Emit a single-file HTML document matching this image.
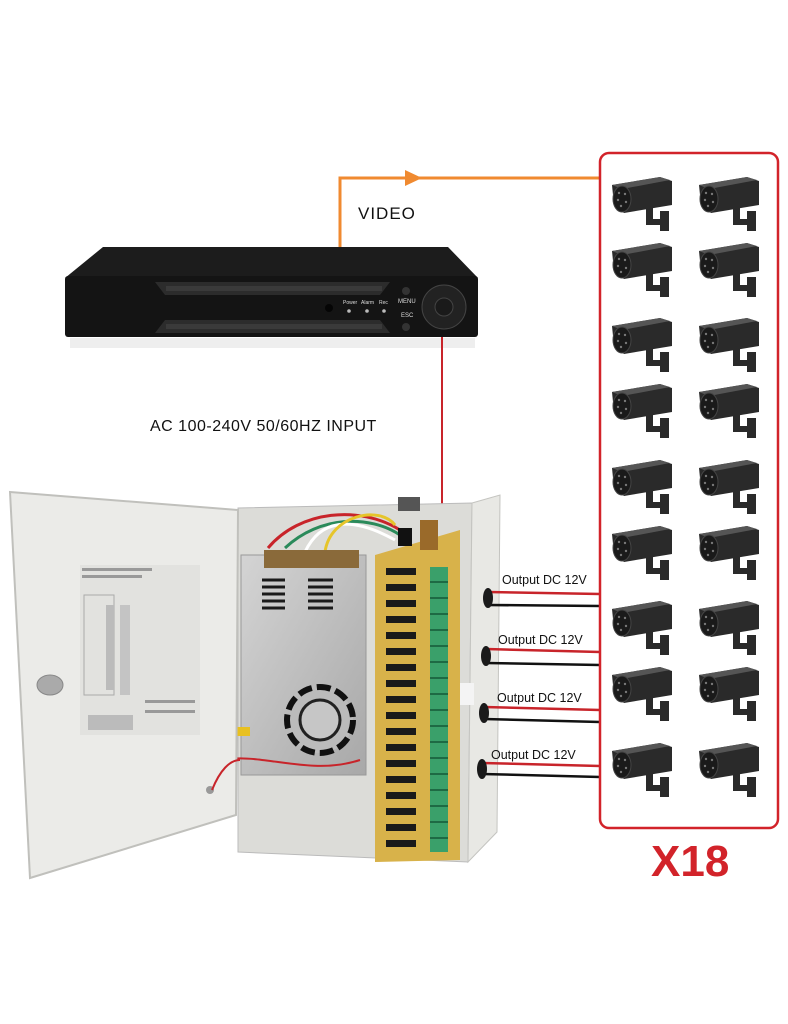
<!DOCTYPE html>
<html><head><meta charset="utf-8"><style>
html,body{margin:0;padding:0;background:#fff;}
svg{display:block;}
text{font-family:"Liberation Sans",sans-serif;}
</style></head><body>
<svg width="788" height="1024" viewBox="0 0 788 1024" xmlns="http://www.w3.org/2000/svg">
<defs>
<g id="cam">
  <polygon points="2,10 50,2 62,6 62,30 14,38 4,30" fill="#2a2a2a"/>
  <polygon points="2,10 50,2 60,5 12,14" fill="#555"/>
  <ellipse cx="12" cy="24" rx="9" ry="13" fill="#1a1a1a" stroke="#444" stroke-width="1"/>
  <circle cx="9" cy="18" r="1.2" fill="#777"/><circle cx="15" cy="19" r="1.2" fill="#777"/>
  <circle cx="8" cy="25" r="1.2" fill="#777"/><circle cx="16" cy="27" r="1.2" fill="#777"/>
  <circle cx="11" cy="31" r="1.2" fill="#777"/>
  <rect x="36" y="32" width="7" height="16" fill="#2a2a2a"/>
  <rect x="36" y="44" width="16" height="6" fill="#2a2a2a"/>
  <rect x="50" y="36" width="9" height="20" fill="#2a2a2a"/>
</g>
<linearGradient id="psu" x1="0" y1="0" x2="1" y2="1"><stop offset="0" stop-color="#d4d4d4"/><stop offset="1" stop-color="#a8a8a8"/></linearGradient>
</defs>

<!-- video line -->
<polyline points="340,258 340,178 600,178" fill="none" stroke="#f08a30" stroke-width="3"/>
<polygon points="405,170 422,178 405,186" fill="#f08a30"/>
<text x="358" y="219" font-size="17" fill="#111" letter-spacing="1">VIDEO</text>

<!-- DVR -->
<polygon points="103,247 448,247 478,278 65,278" fill="#1c1c1c"/>
<rect x="65" y="276" width="413" height="61" rx="3" fill="#141414"/>
<polygon points="155,282 390,282 380,295 165,295" fill="#2c2c2c"/>
<polygon points="165,320 380,320 390,333 155,333" fill="#2c2c2c"/>
<rect x="166" y="286" width="216" height="5" fill="#3a3a3a"/>
<rect x="166" y="324" width="216" height="5" fill="#3a3a3a"/>
<rect x="70" y="338" width="405" height="10" fill="#eee"/>
<circle cx="329" cy="308" r="4" fill="#050505"/>
<text x="343" y="304" font-size="5" fill="#ddd">Power</text>
<text x="361" y="304" font-size="5" fill="#ddd">Alarm</text>
<text x="379" y="304" font-size="5" fill="#ddd">Rec</text>
<circle cx="349" cy="311" r="1.8" fill="#bbb"/><circle cx="367" cy="311" r="1.8" fill="#bbb"/><circle cx="384" cy="311" r="1.8" fill="#bbb"/>
<circle cx="406" cy="291" r="4" fill="#333"/><circle cx="406" cy="327" r="4" fill="#333"/>
<text x="398" y="303" font-size="6" fill="#ddd">MENU</text>
<text x="401" y="317" font-size="6" fill="#ddd">ESC</text>
<circle cx="444" cy="307" r="22" fill="#222" stroke="#444"/>
<circle cx="444" cy="307" r="9" fill="#1a1a1a" stroke="#444"/>

<!-- red AC line -->
<line x1="442" y1="337" x2="442" y2="530" stroke="#c8242a" stroke-width="2"/>
<text x="150" y="431" font-size="16" fill="#111" letter-spacing="0.5">AC 100-240V 50/60HZ INPUT</text>

<!-- box body -->
<polygon points="238,508 472,503 468,862 238,852" fill="#dcdcd8" stroke="#bbb"/>
<polygon points="472,503 500,495 497,832 468,862" fill="#e8e8e4" stroke="#c4c4c0"/>
<rect x="398" y="497" width="22" height="14" fill="#555"/>
<!-- wires -->
<path d="M268,548 C300,510 360,505 400,530" fill="none" stroke="#c8242a" stroke-width="3"/>
<path d="M285,548 C320,515 370,515 400,535" fill="none" stroke="#2a8a5a" stroke-width="3"/>
<path d="M305,552 C320,520 350,515 395,540" fill="none" stroke="#fff" stroke-width="3"/>
<path d="M325,552 C330,515 380,505 395,525" fill="none" stroke="#e6c52a" stroke-width="3"/>
<!-- PSU -->
<rect x="241" y="555" width="125" height="220" fill="url(#psu)" stroke="#999"/>
<rect x="264" y="550" width="95" height="18" fill="#8a6a3a"/>
<g stroke="#1a1a1a" stroke-width="3">
<line x1="262" y1="580" x2="285" y2="580"/><line x1="262" y1="587" x2="285" y2="587"/><line x1="262" y1="594" x2="285" y2="594"/><line x1="262" y1="601" x2="285" y2="601"/><line x1="262" y1="608" x2="285" y2="608"/>
<line x1="308" y1="580" x2="333" y2="580"/><line x1="308" y1="587" x2="333" y2="587"/><line x1="308" y1="594" x2="333" y2="594"/><line x1="308" y1="601" x2="333" y2="601"/><line x1="308" y1="608" x2="333" y2="608"/>
</g>
<circle cx="320" cy="720" r="33" fill="#bbb" stroke="#111" stroke-width="6" stroke-dasharray="14 5"/>
<circle cx="320" cy="720" r="20" fill="#c6c6c6" stroke="#222" stroke-width="3"/>
<path d="M200,770 C240,740 300,780 360,760" fill="none" stroke="#c8242a" stroke-width="2"/>
<rect x="236" y="727" width="14" height="9" fill="#e8c020"/>
<!-- board -->
<polygon points="375,555 460,530 460,860 375,862" fill="#d8b24a"/>
<rect x="398" y="528" width="14" height="18" fill="#111"/>
<rect x="420" y="520" width="18" height="30" fill="#9a6a2a"/>
<g fill="#1a1a1a">
<rect x="386" y="568" width="30" height="7"/><rect x="386" y="584" width="30" height="7"/><rect x="386" y="600" width="30" height="7"/><rect x="386" y="616" width="30" height="7"/><rect x="386" y="632" width="30" height="7"/><rect x="386" y="648" width="30" height="7"/><rect x="386" y="664" width="30" height="7"/><rect x="386" y="680" width="30" height="7"/><rect x="386" y="696" width="30" height="7"/><rect x="386" y="712" width="30" height="7"/><rect x="386" y="728" width="30" height="7"/><rect x="386" y="744" width="30" height="7"/><rect x="386" y="760" width="30" height="7"/><rect x="386" y="776" width="30" height="7"/><rect x="386" y="792" width="30" height="7"/><rect x="386" y="808" width="30" height="7"/><rect x="386" y="824" width="30" height="7"/><rect x="386" y="840" width="30" height="7"/>
</g>
<rect x="430" y="567" width="18" height="285" fill="#3aa06a"/>
<g stroke="#1e6a44" stroke-width="2">
<line x1="430" y1="582" x2="448" y2="582"/><line x1="430" y1="598" x2="448" y2="598"/><line x1="430" y1="614" x2="448" y2="614"/><line x1="430" y1="630" x2="448" y2="630"/><line x1="430" y1="646" x2="448" y2="646"/><line x1="430" y1="662" x2="448" y2="662"/><line x1="430" y1="678" x2="448" y2="678"/><line x1="430" y1="694" x2="448" y2="694"/><line x1="430" y1="710" x2="448" y2="710"/><line x1="430" y1="726" x2="448" y2="726"/><line x1="430" y1="742" x2="448" y2="742"/><line x1="430" y1="758" x2="448" y2="758"/><line x1="430" y1="774" x2="448" y2="774"/><line x1="430" y1="790" x2="448" y2="790"/><line x1="430" y1="806" x2="448" y2="806"/><line x1="430" y1="822" x2="448" y2="822"/><line x1="430" y1="838" x2="448" y2="838"/>
</g>
<rect x="460" y="683" width="14" height="22" fill="#f4f4f4"/>

<!-- door -->
<polygon points="10,492 238,510 236,815 30,878" fill="#ebebe8" stroke="#c0c0bc" stroke-width="2"/>
<rect x="80" y="565" width="120" height="170" fill="#e2e2df"/>
<g fill="#999">
<rect x="82" y="568" width="70" height="3"/><rect x="82" y="575" width="60" height="3"/>
<rect x="84" y="595" width="30" height="100" fill="none" stroke="#aaa"/>
<rect x="106" y="605" width="8" height="85" fill="#bbb"/>
<rect x="120" y="605" width="10" height="90" fill="#c4c4c4"/>
<rect x="145" y="700" width="50" height="3"/><rect x="145" y="710" width="50" height="3"/><rect x="88" y="715" width="45" height="15" fill="#bbb"/>
</g>
<ellipse cx="50" cy="685" rx="13" ry="10" fill="#aaa" stroke="#888"/>
<circle cx="210" cy="790" r="4" fill="#999"/>
<path d="M212,790 C220,770 230,760 240,760" fill="none" stroke="#c8242a" stroke-width="2"/>

<!-- outputs -->
<g font-size="12.5" fill="#111">
<text x="502" y="584">Output DC 12V</text>
<text x="498" y="644">Output DC 12V</text>
<text x="497" y="702">Output DC 12V</text>
<text x="491" y="759">Output DC 12V</text>
</g>
<g stroke-width="2.5">
<line x1="488" y1="592" x2="600" y2="594" stroke="#c8242a"/><line x1="488" y1="605" x2="600" y2="606" stroke="#111"/>
<line x1="486" y1="649" x2="600" y2="652" stroke="#c8242a"/><line x1="486" y1="663" x2="600" y2="665" stroke="#111"/>
<line x1="484" y1="707" x2="600" y2="710" stroke="#c8242a"/><line x1="484" y1="719" x2="600" y2="722" stroke="#111"/>
<line x1="482" y1="763" x2="600" y2="766" stroke="#c8242a"/><line x1="482" y1="774" x2="600" y2="777" stroke="#111"/>
</g>
<g fill="#1a1a1a">
<ellipse cx="488" cy="598" rx="5" ry="10"/><ellipse cx="486" cy="656" rx="5" ry="10"/><ellipse cx="484" cy="713" rx="5" ry="10"/><ellipse cx="482" cy="769" rx="5" ry="10"/>
</g>

<!-- camera frame -->
<rect x="600" y="153" width="178" height="675" rx="9" fill="none" stroke="#d2232a" stroke-width="2.5"/>
<use href="#cam" x="610" y="175"/><use href="#cam" x="697" y="175"/>
<use href="#cam" x="610" y="241"/><use href="#cam" x="697" y="241"/>
<use href="#cam" x="610" y="316"/><use href="#cam" x="697" y="316"/>
<use href="#cam" x="610" y="382"/><use href="#cam" x="697" y="382"/>
<use href="#cam" x="610" y="458"/><use href="#cam" x="697" y="458"/>
<use href="#cam" x="610" y="524"/><use href="#cam" x="697" y="524"/>
<use href="#cam" x="610" y="599"/><use href="#cam" x="697" y="599"/>
<use href="#cam" x="610" y="665"/><use href="#cam" x="697" y="665"/>
<use href="#cam" x="610" y="741"/><use href="#cam" x="697" y="741"/>
<text x="651" y="876" font-size="44" font-weight="bold" fill="#d2232a">X18</text>
</svg>
</body></html>
